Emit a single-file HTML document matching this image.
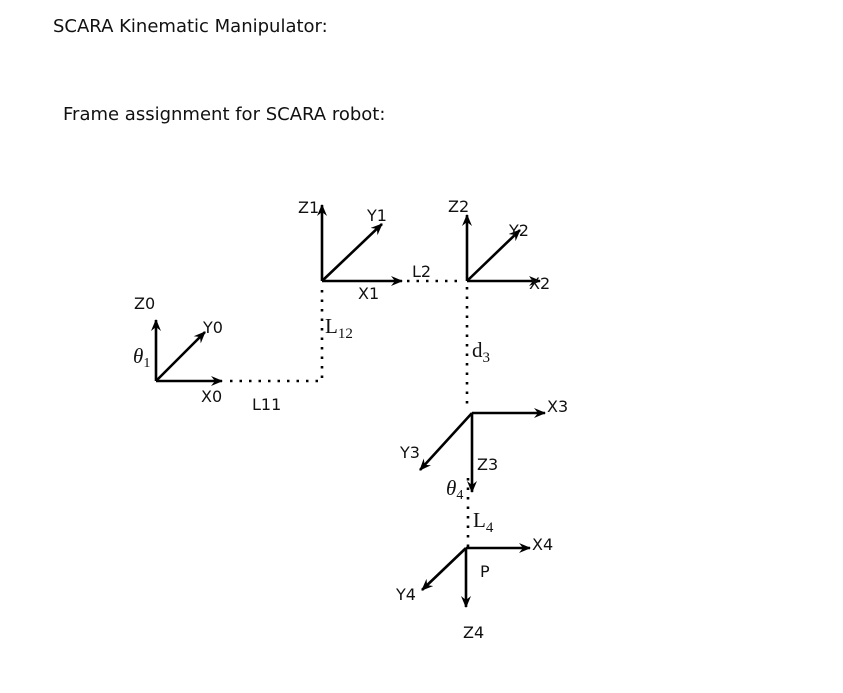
<!DOCTYPE html>
<html><head><style>
body{margin:0;background:#fff;width:843px;height:693px;overflow:hidden}
svg{display:block}
text{font-family:"DejaVu Sans","Liberation Sans",sans-serif;fill:#111}
.s text{font-family:"Liberation Serif",serif}
</style></head><body>
<svg width="843" height="693" viewBox="0 0 843 693">
<defs><marker id="a" viewBox="0 0 12 10" refX="11" refY="5" markerWidth="12" markerHeight="10" markerUnits="userSpaceOnUse" orient="auto"><path d="M0,0 L12,5 L0,10 L4,5z" fill="#000"/></marker></defs>
<text x="53" y="32" font-size="18">SCARA Kinematic Manipulator:</text>
<text x="63" y="120" font-size="18">Frame assignment for SCARA robot:</text>
<g stroke="#000" stroke-width="2.6" fill="none" marker-end="url(#a)">
<line x1="156" y1="381" x2="156" y2="320"/><line x1="156" y1="381" x2="205" y2="332"/><line x1="156" y1="381" x2="222" y2="381"/>
<line x1="322" y1="281" x2="322" y2="205"/><line x1="322" y1="281" x2="382" y2="224"/><line x1="322" y1="281" x2="402" y2="281"/>
<line x1="467" y1="281" x2="467" y2="215"/><line x1="467" y1="281" x2="520" y2="230"/><line x1="467" y1="281" x2="540" y2="281"/>
<line x1="472" y1="413" x2="545" y2="413"/><line x1="472" y1="413" x2="420" y2="470"/><line x1="472" y1="413" x2="472" y2="492"/>
<line x1="466" y1="548" x2="530" y2="548"/><line x1="466" y1="548" x2="422" y2="590"/><line x1="466" y1="548" x2="466" y2="607"/>
</g>
<g stroke="#000" stroke-width="2.6" fill="none" stroke-dasharray="2.5 7">
<path d="M230,381 H322 V286"/><path d="M407,281 H464"/><path d="M467,287 V410"/><path d="M468,478 V548"/>
</g>
<g font-size="16">
<text x="134" y="309">Z0</text><text x="203" y="333">Y0</text><text x="201" y="402">X0</text><text x="252" y="410">L11</text>
<text x="298" y="213">Z1</text><text x="367" y="221">Y1</text><text x="358" y="299">X1</text><text x="412" y="277">L2</text>
<text x="448" y="212">Z2</text><text x="509" y="236">Y2</text><text x="529" y="289">X2</text>
<text x="547" y="412">X3</text><text x="400" y="458">Y3</text><text x="477" y="470">Z3</text>
<text x="532" y="550">X4</text><text x="480" y="577">P</text><text x="396" y="600">Y4</text><text x="463" y="638">Z4</text>
</g>
<g class="s" font-size="21">
<text x="133" y="363" font-style="italic">θ<tspan font-size="14" dy="4" font-style="normal">1</tspan></text>
<text x="325" y="333">L<tspan font-size="15" dy="5">12</tspan></text>
<text x="472" y="357">d<tspan font-size="15" dy="5">3</tspan></text>
<text x="446" y="495" font-style="italic">θ<tspan font-size="14" dy="4" font-style="normal">4</tspan></text>
<text x="473" y="527">L<tspan font-size="15" dy="5">4</tspan></text>
</g>
</svg>
</body></html>
